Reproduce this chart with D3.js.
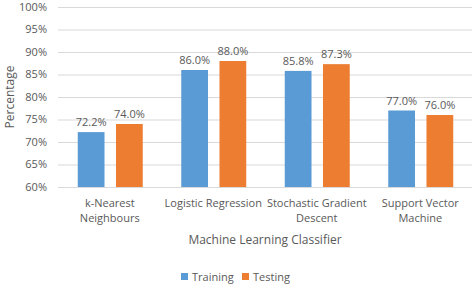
<!DOCTYPE html>
<html><head><meta charset="utf-8">
<script src="https://cdn.jsdelivr.net/npm/d3@7"></script>
<style>body{margin:0;background:#fff}svg text{font-family:"Open Sans",sans-serif;fill:#595959}</style>
</head><body><svg id="c" width="474" height="284"></svg>
<script>
const categories = [["k-Nearest","Neighbours"],["Logistic Regression"],["Stochastic Gradient","Descent"],["Support Vector","Machine"]];
const seriesNames = ["Training","Testing"];
const training = [72.2, 86.0, 85.8, 77.0];
const testing = [74.0, 88.0, 87.3, 76.0];
const yTicks = [60,65,70,75,80,85,90,95,100];
const colors = ["#5B9BD5","#ED7D31"];

(function(){
const svg = d3.select("#c");
const pl = 58, pr = 472, pt = 7, pb = 187;
const x = d3.scaleBand().domain(d3.range(categories.length)).range([pl, pr]);
const y = d3.scaleLinear().domain([60,100]).range([pb, pt]);
const x1 = d3.scaleBand().domain([0,1]).range([-32, 33]).paddingInner(0.3);

svg.append("g").selectAll("line").data(yTicks).join("line")
  .attr("x1", pl).attr("x2", pr).attr("y1", d=>y(d)+0.5).attr("y2", d=>y(d)+0.5)
  .attr("stroke", "#d9d9d9").attr("stroke-width", 1);

svg.append("g").selectAll("text").data(yTicks).join("text")
  .attr("x", 47).attr("y", d=>y(d)).attr("dy","0.35em").attr("text-anchor","end")
  .attr("font-size", 11).text(d=>d+"%");

const series = [training, testing];
series.forEach((vals, si) => {
  const g = svg.append("g");
  g.selectAll("rect").data(vals).join("rect")
    .attr("x", (d,i)=>x(i)+x.bandwidth()/2 + x1(si))
    .attr("width", x1.bandwidth())
    .attr("y", d=>y(d)).attr("height", d=>y(60)-y(d))
    .attr("fill", colors[si]);
  g.selectAll("text").data(vals).join("text")
    .attr("x", (d,i)=>x(i)+x.bandwidth()/2 + x1(si) + x1.bandwidth()/2)
    .attr("y", d=>y(d)-6).attr("text-anchor","middle").attr("font-size", 11)
    .text(d=>d.toFixed(1)+"%");
});

const cl = svg.append("g").selectAll("text").data(categories).join("text")
  .attr("text-anchor","middle").attr("font-size", 11)
  .attr("transform", (d,i)=>`translate(${x(i)+x.bandwidth()/2},207)`);
cl.selectAll("tspan").data(d=>d).join("tspan")
  .attr("x",0).attr("dy",(d,i)=>i===0?0:15).text(d=>d);

svg.append("text").attr("x", (pl+pr)/2).attr("y", 244).attr("text-anchor","middle")
  .attr("font-size", 12).text("Machine Learning Classifier");
svg.append("text").attr("transform", `translate(14,${(pt+pb)/2}) rotate(-90)`)
  .attr("text-anchor","middle").attr("font-size", 12).text("Percentage");

const legX = [181, 242];
seriesNames.forEach((n,i)=>{
  svg.append("rect").attr("x", legX[i]).attr("y", 273).attr("width", 7).attr("height", 7).attr("fill", colors[i]);
  svg.append("text").attr("x", legX[i]+11).attr("y", 277).attr("dy","0.35em").attr("font-size", 11).text(n);
});
})();
</script></body></html>
